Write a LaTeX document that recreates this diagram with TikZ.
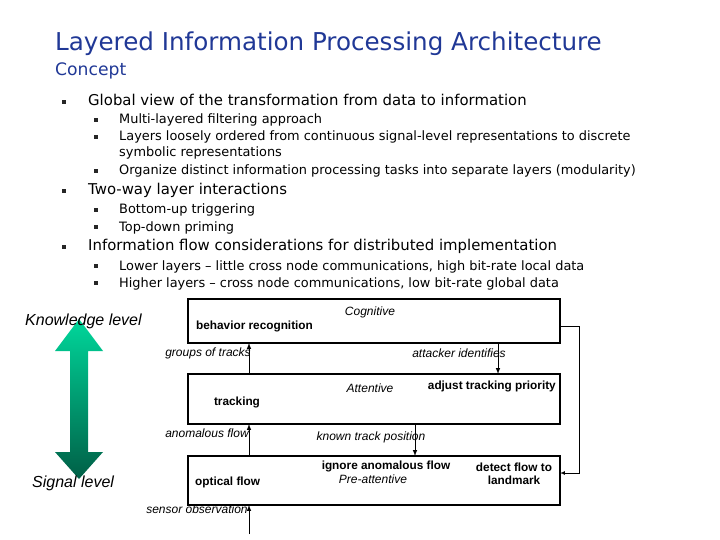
\documentclass[tikz,border=0pt]{standalone}
\usepackage{fontspec}
\setmainfont{DejaVu Sans}
\newfontfamily\arialf{Liberation Sans}
\begin{document}
\begin{tikzpicture}[x=1pt,y=-1pt,
 title/.style={anchor=base west,inner sep=0,text=titleblue},
 lvl/.style={anchor=base west,inner sep=0,font=\fontsize{14.9}{16}\selectfont},
 sub/.style={anchor=base west,inner sep=0,font=\fontsize{12.9}{13}\selectfont},
 bul/.style={fill=black!85,minimum size=4.5pt,inner sep=0},
 sbul/.style={fill=black!85,minimum size=3.5pt,inner sep=0},
 layer/.style={draw,line width=2pt},
 bt/.style={inner sep=0,font=\arialf\bfseries\fontsize{11.8}{12}\selectfont},
 it/.style={inner sep=0,font=\arialf\itshape\fontsize{12}{12}\selectfont},
 arr/.style={-latex,line width=1pt}]
\definecolor{titleblue}{RGB}{32,56,150}
\useasboundingbox (0,0) rectangle (720,540);
\node[title,font=\fontsize{24.6}{26}\selectfont] (t) at (55,51) {Layered Information Processing Architecture};
\node[title,font=\fontsize{17.2}{18}\selectfont] (c) at (55,76) {Concept};
\node[bul] (b1) at (64,102) {}; \node[lvl] (l1) at (88,106) {Global view of the transformation from data to information};
\node[sbul] (s1) at (96,120) {}; \node[sub] (x1) at (119,124) {Multi-layered filtering approach};
\node[sbul] (s2) at (96,137) {}; \node[sub] (x2) at (119,141) {Layers loosely ordered from continuous signal-level representations to discrete};
\node[sub] (x2b) at (119,157) {symbolic representations};
\node[sbul] (s3) at (96,171) {}; \node[sub] (x3) at (119,175) {Organize distinct information processing tasks into separate layers (modularity)};
\node[bul] (b2) at (64,191) {}; \node[lvl] (l2) at (88,195) {Two-way layer interactions};
\node[sbul] (s4) at (96,210) {}; \node[sub] (x4) at (119,214) {Bottom-up triggering};
\node[sbul] (s5) at (96,227) {}; \node[sub] (x5) at (119,231) {Top-down priming};
\node[bul] (b3) at (64,247) {}; \node[lvl] (l3) at (88,251) {Information flow considerations for distributed implementation};
\node[sbul] (s6) at (96,266) {}; \node[sub] (x6) at (119,270) {Lower layers – little cross node communications, high bit-rate local data};
\node[sbul] (s7) at (96,283) {}; \node[sub] (x7) at (119,287) {Higher layers – cross node communications, low bit-rate global data};
% green arrow
\shade[top color={rgb,255:red,0;green,215;blue,155},bottom color={rgb,255:red,0;green,95;blue,70}]
 (79,319) -- (103,351) -- (88,351) -- (88,452) -- (103,452) -- (79,479) -- (55,452) -- (70,452) -- (70,351) -- (55,351) -- cycle;
\node[inner sep=0,anchor=base west,font=\arialf\itshape\fontsize{16}{16}\selectfont] (kl) at (25,325) {Knowledge level};
\node[inner sep=0,anchor=base west,font=\arialf\itshape\fontsize{16}{16}\selectfont] (sl) at (32,487) {Signal level};
% layers
\draw[layer] (188,299) rectangle (560,343);
\draw[layer] (188,374) rectangle (560,424);
\draw[layer] (188,456) rectangle (560,505);
\coordinate (cogB) at (249,343); \coordinate (attT) at (249,374);
\coordinate (cogB2) at (498,343); \coordinate (attT2) at (498,374);
\coordinate (attB) at (249,424); \coordinate (preT) at (249,456);
\coordinate (attB2) at (415,424); \coordinate (preT2) at (415,456);
\coordinate (sen) at (249,534); \coordinate (preB) at (249,505);
\coordinate (fbA) at (560,326); \coordinate (fbB) at (560,473);
\node[it] (cog) at (370,312) {Cognitive};
\node[bt,anchor=west] (br) at (196,326) {behavior recognition};
\node[it] (att) at (370,388) {Attentive};
\node[bt,anchor=east] (atp) at (556,386) {adjust tracking priority};
\node[bt] (tr) at (237,402) {tracking};
\node[it] (pre) at (373,479) {Pre-attentive};
\node[bt] (ign) at (386,466) {ignore anomalous flow};
\node[bt,align=center] (dfl) at (514,474) {detect flow to\\[1pt]landmark};
\node[bt,anchor=west] (of) at (195,482) {optical flow};
\node[it] (gt) at (208,353) {groups of tracks};
\node[it] (ai) at (459,353) {attacker identifies};
\node[it] (af) at (207,433) {anomalous flow};
\node[it] (kt) at (371,437) {known track position};
\node[it] (so) at (197,509) {sensor observation};
\draw[arr] (attT) -- (cogB);
\draw[arr] (cogB2) -- (attT2);
\draw[arr] (preT) -- (attB);
\draw[arr] (attB2) -- (preT2);
\draw[arr] (sen) -- (preB);
\draw[arr,line width=0.7pt] (fbA) -- (579,326) -- (579,473) -- (fbB);
\end{tikzpicture}
\end{document}
